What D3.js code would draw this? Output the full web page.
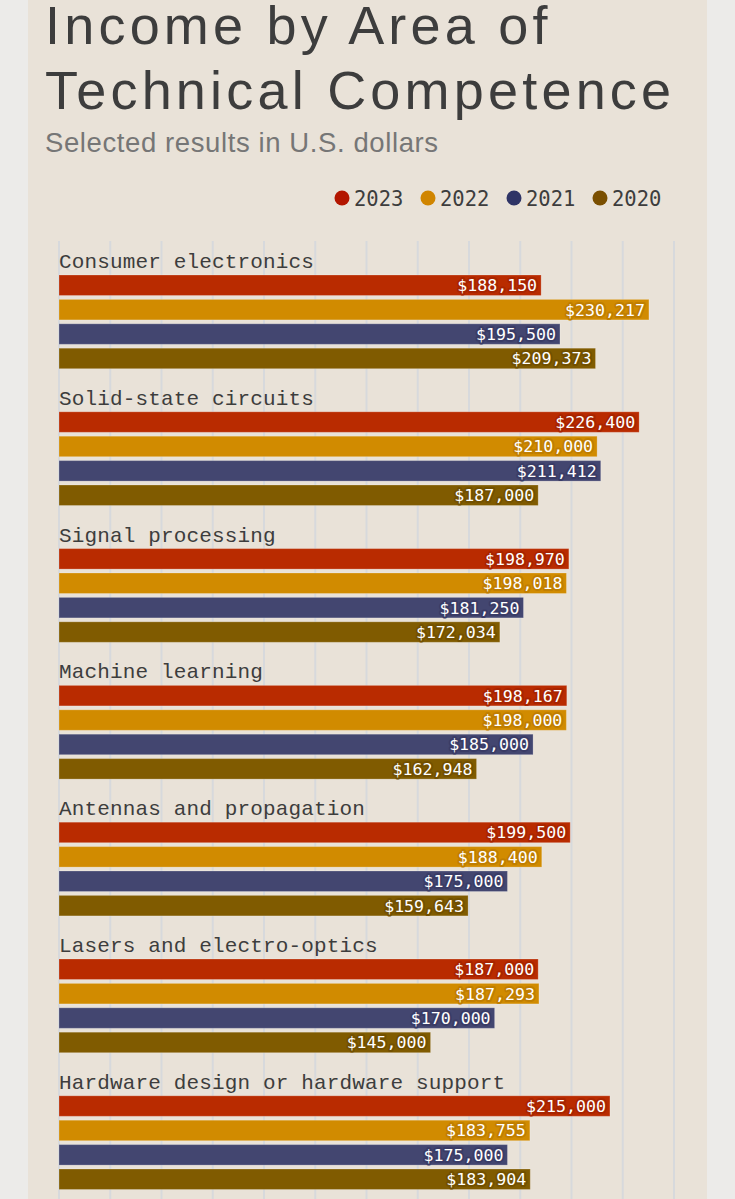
<!DOCTYPE html>
<html><head><meta charset="utf-8">
<script src="https://cdn.jsdelivr.net/npm/d3@7"></script>
<style>
html,body{margin:0;padding:0;background:#ecebe9;}
svg{display:block;}
</style></head>
<body>
<svg id="chart" width="735" height="1199"></svg>
<script>
const categories = [
  "Consumer electronics",
  "Solid-state circuits",
  "Signal processing",
  "Machine learning",
  "Antennas and propagation",
  "Lasers and electro-optics",
  "Hardware design or hardware support"
];
const years = ["2023", "2022", "2021", "2020"];
const values2023 = [188150, 226400, 198970, 198167, 199500, 187000, 215000];
const values2022 = [230217, 210000, 198018, 198000, 188400, 187293, 183755];
const values2021 = [195500, 211412, 181250, 185000, 175000, 170000, 175000];
const values2020 = [209373, 187000, 172034, 162948, 159643, 145000, 183904];
const gridTicks = [0, 20000, 40000, 60000, 80000, 100000, 120000, 140000, 160000, 180000, 200000, 220000, 240000];
const title = ["Income by Area of", "Technical Competence"];
const subtitle = "Selected results in U.S. dollars";

const seriesByYear = {"2023": values2023, "2022": values2022, "2021": values2021, "2020": values2020};
const barColors = {"2023": "#b92b00", "2022": "#d18b00", "2021": "#434670", "2020": "#805b00"};
const haloColors = {"2023": "#a82400", "2022": "#c07e00", "2021": "#3a3c66", "2020": "#725000"};
const dotColors = {"2023": "#b31600", "2022": "#d08500", "2021": "#2f3466", "2020": "#7a4f00"};

const svg = d3.select("#chart");
const W = 735, H = 1199;

svg.append("rect").attr("x", 0).attr("y", 0).attr("width", W).attr("height", H).attr("fill", "#ecebe9");
svg.append("rect").attr("x", 28).attr("y", 0).attr("width", 679).attr("height", H).attr("fill", "#e9e2d8");

// Title
svg.selectAll("text.title").data(title).join("text")
  .attr("class", "title")
  .attr("x", 45).attr("y", (d, i) => 44 + i * 65)
  .attr("font-family", "'Liberation Sans', Arial, sans-serif")
  .attr("font-size", 54).attr("letter-spacing", 4.2)
  .attr("fill", "#3d3d3d").text(d => d);

svg.append("text").attr("x", 45).attr("y", 152)
  .attr("font-family", "'Liberation Sans', Arial, sans-serif")
  .attr("font-size", 27.5).attr("letter-spacing", 0.6)
  .attr("fill", "#767676").text(subtitle);

// Legend
const legendX = d3.scalePoint().domain(years).range([342, 600]);
const lg = svg.append("g").selectAll("g").data(years).join("g")
  .attr("transform", d => `translate(${legendX(d)},198)`);
lg.append("circle").attr("r", 7.5).attr("fill", d => dotColors[d]);
lg.append("text").attr("x", 12).attr("y", 8)
  .attr("font-family", "'DejaVu Sans Mono', monospace")
  .attr("font-size", 20.5).attr("fill", "#3d3d3d").text(d => d);

// Scales
const x = d3.scaleLinear().domain([0, 240000]).range([59, 674]);
const y0 = d3.scaleBand().domain(categories).range([245, 245 + 136.8 * categories.length]).paddingInner(0).paddingOuter(0);
const y1 = d3.scaleBand().domain(years).range([30, 123.7]).paddingInner(0.16).paddingOuter(0);

// Grid
svg.append("g").selectAll("line").data(gridTicks).join("line")
  .attr("x1", d => x(d)).attr("x2", d => x(d))
  .attr("y1", 241).attr("y2", H)
  .attr("stroke", "#d7d9dc").attr("stroke-width", 2);

// Groups
const groups = svg.append("g").selectAll("g").data(categories).join("g")
  .attr("transform", d => `translate(0,${y0(d)})`);

groups.append("text").attr("x", 59).attr("y", 23)
  .attr("font-family", "'Liberation Mono', monospace")
  .attr("font-size", 21).attr("letter-spacing", 0.15).attr("fill", "#3d3d3d").text(d => d);

const barData = (c, ci) => years.map(yr => ({year: yr, value: seriesByYear[yr][ci]}));

groups.each(function(c, ci) {
  const g = d3.select(this);
  const data = barData(c, ci);
  g.selectAll("rect.bar").data(data).join("rect")
    .attr("class", "bar")
    .attr("x", x(0)).attr("y", d => y1(d.year))
    .attr("width", d => x(d.value) - x(0)).attr("height", y1.bandwidth())
    .attr("fill", d => barColors[d.year])
    .attr("stroke", "#ffffff").attr("stroke-opacity", 0.22).attr("stroke-width", 1);
  g.selectAll("text.val").data(data).join("text")
    .attr("class", "val")
    .attr("x", d => x(d.value) - 4)
    .attr("y", d => y1(d.year) + y1.bandwidth() / 2 + 6)
    .attr("text-anchor", "end")
    .attr("font-family", "'DejaVu Sans Mono', monospace")
    .attr("font-size", 16.6)
    .attr("fill", "#ffffff")
    .attr("stroke", d => haloColors[d.year]).attr("stroke-width", 4)
    .attr("stroke-linejoin", "round").attr("paint-order", "stroke")
    .text(d => "$" + d3.format(",")(d.value));
});
</script>
</body></html>
